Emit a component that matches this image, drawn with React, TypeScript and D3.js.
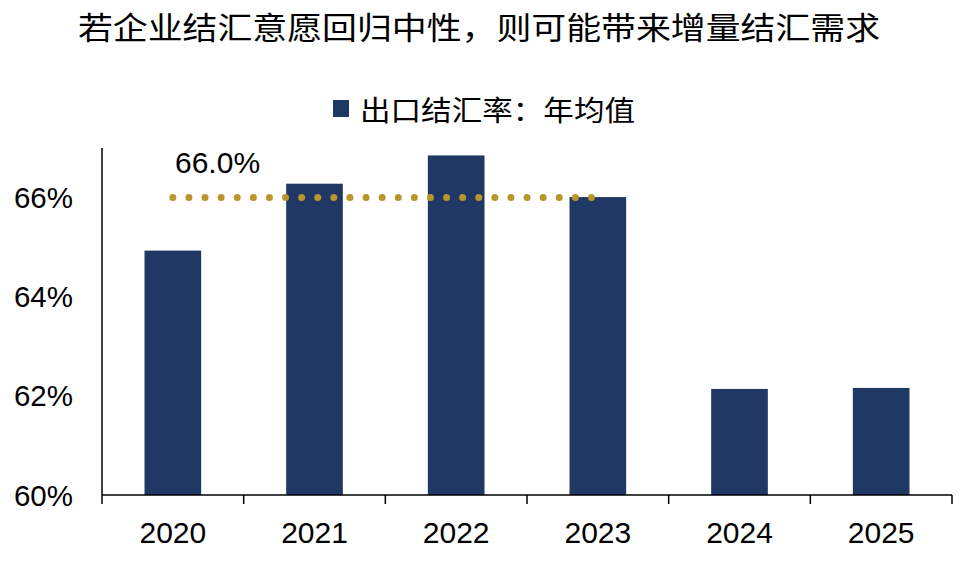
import React from "react";
import * as d3 from "d3";

const title = "若企业结汇意愿回归中性，则可能带来增量结汇需求";
const legendLabel = "出口结汇率：年均值";
const years = ["2020", "2021", "2022", "2023", "2024", "2025"];
const values = [64.93, 66.28, 66.85, 66.01, 62.14, 62.16];
const yTicks = [60, 62, 64, 66];
const refValue = 66.0;
const refLabel = "66.0%";
const refFrom = "2020";
const refTo = "2023";

const W = 975;
const H = 564;
const NAVY = "#203864";
const GOLD = "#B8962A";
const NUM_FONT = "Arial, 'Liberation Sans', sans-serif";
const CJK_FONT = "'Noto Sans CJK SC', sans-serif";

export default function App() {
  const x = d3.scaleBand<string>().domain(years).range([102, 952]).paddingInner(0.6).paddingOuter(0.3);
  const y = d3.scaleLinear().domain([60, 67]).range([495, 148]);
  const step = x.step();
  const boundaries = d3.range(years.length + 1).map((i) => 102 + i * step);
  const cx = (d: string) => (x(d) as number) + x.bandwidth() / 2;

  return (
    <svg width={W} height={H} style={{ position: "absolute", left: 0, top: 0, background: "#fff" }}>
      <text x={78} y={25} dominantBaseline="central" fontFamily={CJK_FONT} fontSize={31} fontWeight={400} textLength={802} lengthAdjust="spacingAndGlyphs" fill="#000">
        {title}
      </text>
      <rect x={333} y={100} width={16} height={17} fill={NAVY} />
      <text x={360} y={109} dominantBaseline="central" fontFamily={CJK_FONT} fontSize={28} textLength={275} lengthAdjust="spacingAndGlyphs" fill="#000">
        {legendLabel}
      </text>

      {years.map((yr, i) => (
        <rect key={yr} x={x(yr)} y={y(values[i])} width={x.bandwidth()} height={y(60) - y(values[i])} fill={NAVY} />
      ))}

      <line x1={102} x2={102} y1={148} y2={495} stroke="#000" strokeWidth={1.5} />
      <line x1={102} x2={952} y1={495} y2={495} stroke="#000" strokeWidth={1.5} />
      {boundaries.map((b, i) => (
        <line key={i} x1={b} x2={b} y1={495} y2={504} stroke="#000" strokeWidth={1.5} />
      ))}

      {yTicks.map((t) => (
        <text key={t} x={73} y={y(t)} dy="0.36em" textAnchor="end" fontFamily={NUM_FONT} fontSize={29.5} fill="#000">
          {t}%
        </text>
      ))}
      {years.map((yr) => (
        <text key={yr} x={cx(yr)} y={543} textAnchor="middle" fontFamily={NUM_FONT} fontSize={30} fill="#000">
          {yr}
        </text>
      ))}

      <line x1={cx(refFrom)} x2={cx(refTo)} y1={y(refValue)} y2={y(refValue)} stroke={GOLD} strokeWidth={7} strokeLinecap="round" strokeDasharray="0 16.1" />
      <text x={175} y={173} fontFamily={NUM_FONT} fontSize={30} fill="#000">
        {refLabel}
      </text>
    </svg>
  );
}
